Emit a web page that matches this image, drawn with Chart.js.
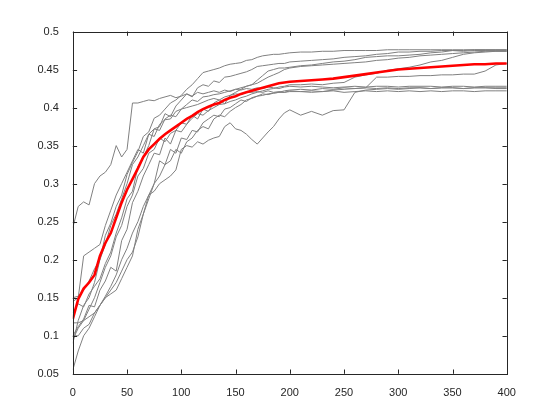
<!DOCTYPE html>
<html>
<head>
<meta charset="utf-8">
<script src="https://cdn.jsdelivr.net/npm/chart.js@4.4.0/dist/chart.umd.min.js"></script>
<style>
  html, body { margin:0; padding:0; background:#fff; }
  #wrap { width:560px; height:420px; }
</style>
</head>
<body>
<div id="wrap"><canvas id="lineChart" width="560" height="420"></canvas></div>
<script>
// x positions (iteraciones)
var xs = [0,5,10,15,20,25,30,35,40,45,50,55,60,65,70,75,80,85,90,95,100,
          105,110,115,120,125,130,135,140,145,150,155,160,165,170,175,180,185,190,195,200,
          210,220,230,240,250,260,270,280,290,300,310,320,330,340,350,360,370,380,390,400];

var yTicks = [0.05,0.1,0.15,0.2,0.25,0.3,0.35,0.4,0.45,0.5];
var xTicks = [0,50,100,150,200,250,300,350,400];

// corridas individuales (gris)
var run1 = [0.15,0.152,0.16,0.172,0.188,0.2,0.232,0.248,0.27,0.285,0.312,0.328,0.342,0.362,0.368,0.386,0.39,0.398,0.406,0.41,0.416,
            0.424,0.43,0.438,0.446,0.448,0.45,0.452,0.455,0.457,0.458,0.459,0.462,0.463,0.466,0.468,0.469,0.47,0.47,0.471,0.472,
            0.473,0.473,0.474,0.474,0.475,0.475,0.475,0.475,0.476,0.476,0.476,0.476,0.476,0.476,0.476,0.476,0.476,0.476,0.476,0.476];
var run2 = [0.13,0.142,0.138,0.155,0.165,0.175,0.195,0.21,0.235,0.255,0.28,0.29,0.322,0.335,0.35,0.372,0.375,0.392,0.388,0.402,0.41,
            0.418,0.414,0.426,0.43,0.428,0.435,0.433,0.44,0.441,0.443,0.445,0.447,0.45,0.454,0.455,0.456,0.457,0.458,0.458,0.46,
            0.461,0.462,0.463,0.464,0.466,0.467,0.468,0.47,0.471,0.473,0.473,0.474,0.474,0.475,0.475,0.474,0.475,0.475,0.475,0.475];
var run3 = [0.1,0.112,0.122,0.14,0.138,0.16,0.172,0.19,0.185,0.225,0.24,0.275,0.29,0.31,0.325,0.34,0.338,0.36,0.352,0.37,0.368,
            0.378,0.39,0.385,0.398,0.395,0.406,0.41,0.405,0.416,0.42,0.424,0.428,0.43,0.436,0.442,0.448,0.45,0.452,0.452,0.453,
            0.455,0.456,0.458,0.46,0.461,0.463,0.466,0.467,0.468,0.468,0.469,0.47,0.472,0.473,0.475,0.475,0.476,0.476,0.476,0.476];
var run4 = [0.055,0.08,0.1,0.11,0.125,0.14,0.15,0.16,0.17,0.185,0.2,0.21,0.23,0.26,0.285,0.3,0.33,0.325,0.345,0.34,0.36,
            0.358,0.37,0.368,0.38,0.385,0.39,0.388,0.398,0.4,0.405,0.41,0.408,0.413,0.415,0.418,0.417,0.419,0.42,0.42,0.421,
            0.421,0.422,0.421,0.423,0.424,0.425,0.426,0.44,0.44,0.441,0.441,0.442,0.442,0.443,0.443,0.444,0.444,0.448,0.456,0.458];
var run5 = [0.117,0.117,0.12,0.125,0.13,0.14,0.152,0.165,0.18,0.2,0.215,0.235,0.25,0.27,0.285,0.29,0.3,0.305,0.31,0.318,0.345,
            0.35,0.348,0.355,0.352,0.357,0.36,0.362,0.375,0.38,0.372,0.37,0.365,0.358,0.352,0.36,0.368,0.375,0.385,0.393,0.397,
            0.39,0.395,0.39,0.396,0.397,0.42,0.423,0.424,0.425,0.424,0.425,0.426,0.425,0.426,0.426,0.425,0.426,0.426,0.425,0.425];
var run6 = [0.242,0.27,0.276,0.272,0.3,0.31,0.315,0.325,0.35,0.335,0.345,0.406,0.406,0.408,0.41,0.409,0.412,0.414,0.416,0.413,0.415,
            0.418,0.415,0.42,0.418,0.42,0.422,0.42,0.423,0.421,0.424,0.423,0.425,0.424,0.426,0.425,0.427,0.426,0.425,0.427,0.428,
            0.427,0.428,0.427,0.426,0.427,0.428,0.427,0.428,0.428,0.427,0.428,0.428,0.428,0.427,0.428,0.428,0.427,0.428,0.428,0.428];
var run7 = [0.145,0.15,0.205,0.21,0.215,0.22,0.245,0.265,0.285,0.3,0.315,0.33,0.345,0.34,0.365,0.372,0.37,0.385,0.39,0.388,0.398,
            0.4,0.402,0.404,0.407,0.41,0.412,0.41,0.414,0.416,0.418,0.417,0.42,0.42,0.421,0.42,0.422,0.42,0.421,0.42,0.422,
            0.421,0.42,0.421,0.422,0.42,0.421,0.422,0.421,0.422,0.421,0.422,0.421,0.422,0.421,0.422,0.422,0.421,0.422,0.422,0.422];
var run8 = [0.1,0.1,0.11,0.115,0.13,0.14,0.15,0.155,0.16,0.175,0.19,0.205,0.24,0.26,0.28,0.3,0.31,0.325,0.33,0.345,0.34,
            0.355,0.36,0.37,0.375,0.372,0.385,0.39,0.388,0.395,0.4,0.404,0.41,0.412,0.415,0.416,0.418,0.419,0.42,0.422,0.423,
            0.424,0.423,0.425,0.424,0.426,0.425,0.426,0.425,0.426,0.425,0.426,0.426,0.425,0.426,0.426,0.425,0.426,0.426,0.426,0.426];
var run9 = [0.095,0.11,0.12,0.135,0.15,0.17,0.19,0.205,0.23,0.245,0.27,0.285,0.31,0.32,0.34,0.345,0.36,0.355,0.366,0.37,0.38,
            0.378,0.386,0.392,0.39,0.396,0.4,0.404,0.405,0.408,0.41,0.413,0.415,0.418,0.42,0.422,0.424,0.425,0.427,0.428,0.43,
            0.43,0.431,0.43,0.432,0.433,0.44,0.443,0.445,0.449,0.451,0.453,0.456,0.46,0.462,0.466,0.47,0.472,0.473,0.474,0.474];
var run10 = [0.09,0.12,0.14,0.15,0.17,0.2,0.22,0.245,0.26,0.28,0.3,0.325,0.335,0.35,0.365,0.362,0.378,0.384,0.385,0.395,0.398,
             0.404,0.41,0.408,0.414,0.415,0.417,0.418,0.42,0.422,0.424,0.426,0.428,0.43,0.432,0.436,0.44,0.443,0.446,0.45,0.452,
             0.454,0.455,0.456,0.457,0.458,0.459,0.46,0.462,0.463,0.465,0.466,0.468,0.469,0.47,0.471,0.472,0.473,0.474,0.474,0.474];

// promedio (rojo)
var mediaRuns = [0.122,0.148,0.162,0.17,0.18,0.205,0.222,0.235,0.255,0.275,0.292,0.306,0.32,0.335,0.345,0.352,0.359,0.365,0.37,0.375,0.38,
                 0.385,0.389,0.394,0.398,0.401,0.404,0.406,0.41,0.413,0.415,0.418,0.42,0.422,0.424,0.426,0.428,0.43,0.432,0.433,0.434,
                 0.435,0.436,0.437,0.438,0.44,0.442,0.444,0.446,0.448,0.45,0.451,0.452,0.453,0.454,0.455,0.456,0.457,0.457,0.458,0.458];

var runs = [run1, run2, run3, run4, run5, run6, run7, run8, run9, run10];

function toPoints(serie){
    return xs.map(function(x, i){ return {x: x, y: serie[i]}; });
}

var datasets = [{
    label: 'media',
    data: toPoints(mediaRuns),
    borderColor: '#ff0000',
    borderWidth: 2.6,
    order: 0
}];
for (var i = 0; i < runs.length; i++) {
    datasets.push({
        label: 'run ' + (i + 1),
        data: toPoints(runs[i]),
        borderColor: '#808080',
        borderWidth: 1,
        order: 1
    });
}

// caja y marcas hacia adentro, estilo matlab
var boxPlugin = {
    id: 'boxPlugin',
    afterDraw: function(chart){
        var ctx = chart.ctx;
        var a = chart.chartArea;
        var sx = chart.scales.x, sy = chart.scales.y;
        var len = 4.3;
        ctx.save();
        ctx.strokeStyle = '#262626';
        ctx.lineWidth = 1;
        ctx.beginPath();
        xTicks.forEach(function(v){
            var p = Math.round(sx.getPixelForValue(v)) + 0.5;
            ctx.moveTo(p, a.bottom); ctx.lineTo(p, a.bottom - len);
            ctx.moveTo(p, a.top); ctx.lineTo(p, a.top + len);
        });
        yTicks.forEach(function(v){
            var p = Math.round(sy.getPixelForValue(v)) + 0.5;
            ctx.moveTo(a.left, p); ctx.lineTo(a.left + len, p);
            ctx.moveTo(a.right, p); ctx.lineTo(a.right - len, p);
        });
        ctx.stroke();
        ctx.strokeRect(Math.round(a.left) + 0.5, Math.round(a.top) + 0.5,
                       Math.round(a.right - a.left), Math.round(a.bottom - a.top));
        ctx.restore();
    }
};

var ctx = document.getElementById('lineChart').getContext('2d');
var myChart = new Chart(ctx, {
    type: 'line',
    data: { datasets: datasets },
    options: {
        responsive: false,
        animation: false,
        events: [],
        layout: { padding: { left: 0, top: 31.5, right: 53.2, bottom: 0 } },
        elements: { point: { radius: 0 }, line: { tension: 0 } },
        plugins: { legend: { display: false }, tooltip: { enabled: false } },
        scales: {
            x: {
                type: 'linear', min: 0, max: 400,
                afterFit: function(scale){ scale.height = 46.2; },
                afterBuildTicks: function(scale){ scale.ticks = xTicks.map(function(v){ return {value: v}; }); },
                grid: { display: false },
                border: { display: false },
                ticks: { color: '#262626', padding: 5, maxRotation: 0,
                         font: { family: 'Liberation Sans, Arial, sans-serif', size: 11 } }
            },
            y: {
                type: 'linear', min: 0.05, max: 0.5,
                afterFit: function(scale){ scale.width = 72.8; },
                afterBuildTicks: function(scale){ scale.ticks = yTicks.map(function(v){ return {value: v}; }); },
                grid: { display: false },
                border: { display: false },
                ticks: { color: '#262626', padding: 6,
                         font: { family: 'Liberation Sans, Arial, sans-serif', size: 11 },
                         callback: function(v){ return String(Math.round(v * 100) / 100); } }
            }
        }
    },
    plugins: [boxPlugin]
});
</script>
</body>
</html>
